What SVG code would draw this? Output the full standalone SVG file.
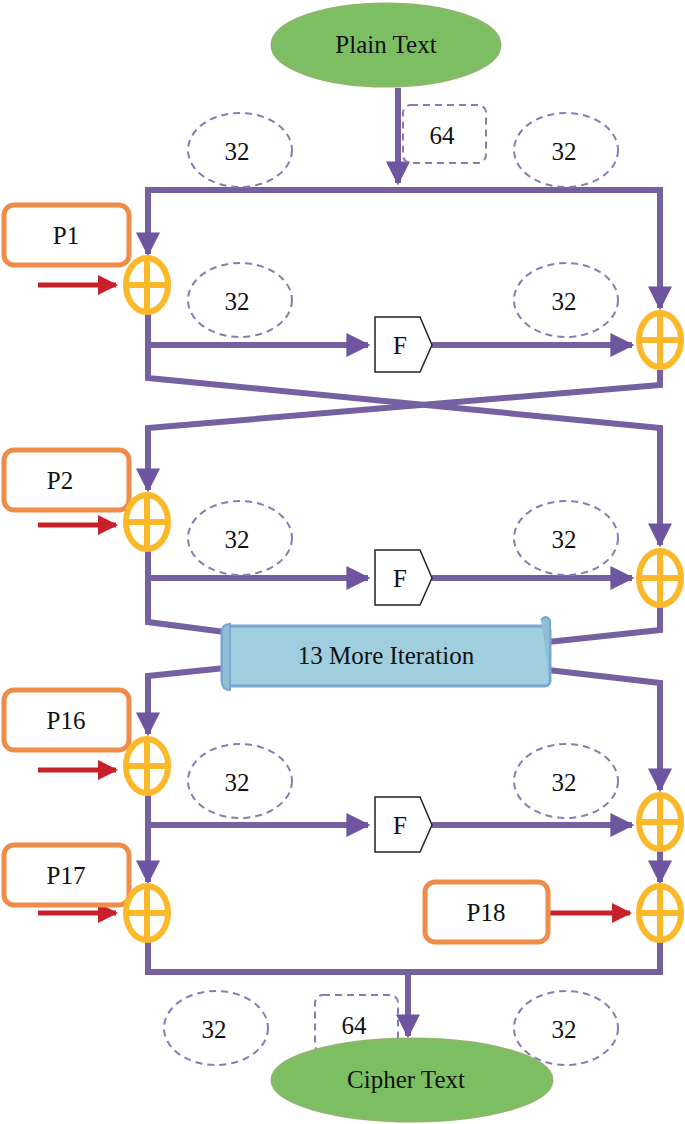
<svg xmlns="http://www.w3.org/2000/svg" width="685" height="1124" viewBox="0 0 685 1124">
<defs>
<marker id="pa" viewBox="0 0 10 10" refX="9" refY="5" markerWidth="4" markerHeight="4" orient="auto"><path d="M0,0 L10,5 L0,10 Z" fill="#6f55a0"/></marker>
<marker id="ra" viewBox="0 0 10 10" refX="9" refY="5" markerWidth="4" markerHeight="4" orient="auto"><path d="M0,0 L10,5 L0,10 Z" fill="#c8202a"/></marker>
<g id="xor"><ellipse cx="0" cy="0" rx="21" ry="27" fill="none" stroke="#fbb829" stroke-width="6"/><path d="M0,-27 V27 M-21,0 H21" stroke="#fbb829" stroke-width="6"/></g>
</defs>
<style>
.t{font-family:'Liberation Serif','DejaVu Serif',serif;font-size:25px;fill:#111;text-anchor:middle}
.w{fill:none;stroke:#7760a2;stroke-width:6}
.d{fill:none;stroke:#8a7bb5;stroke-width:2;stroke-dasharray:7,5}
.p{fill:#fff;stroke:#f08c4a;stroke-width:5}
.r{fill:none;stroke:#c8202a;stroke-width:5}
.f{fill:#fff;stroke:#222;stroke-width:1.5}
</style>
<g id="connectors">
<path class="w" d="M398,88 V183" marker-end="url(#pa)"/>
<path class="w" d="M148,252 V190 H660 V308" marker-end="url(#pa)"/>
<path class="w" d="M148,252 V254" marker-end="url(#pa)"/>
<path class="w" d="M148,313 V378 L660,428 V545" marker-end="url(#pa)"/>
<path class="w" d="M148,345 H368" marker-end="url(#pa)"/>
<path class="w" d="M432,345 H632" marker-end="url(#pa)"/>
<path class="w" d="M660,370 V385 L148,428 V490" marker-end="url(#pa)"/>
<path class="w" d="M148,550 V622 L225,632"/>
<path class="w" d="M148,578 H368" marker-end="url(#pa)"/>
<path class="w" d="M432,578 H632" marker-end="url(#pa)"/>
<path class="w" d="M660,606 V630 L548,642"/>
<path class="w" d="M225,668 L148,676 V734" marker-end="url(#pa)"/>
<path class="w" d="M548,670 L660,683 V790" marker-end="url(#pa)"/>
<path class="w" d="M148,794 V882" marker-end="url(#pa)"/>
<path class="w" d="M148,825 H368" marker-end="url(#pa)"/>
<path class="w" d="M432,825 H632" marker-end="url(#pa)"/>
<path class="w" d="M660,851 V882" marker-end="url(#pa)"/>
<path class="w" d="M148,942 V972 H660 V942"/>
<path class="w" d="M408,972 V1036" marker-end="url(#pa)"/>
<path class="r" d="M38,285 H116" marker-end="url(#ra)"/>
<path class="r" d="M38,525 H116" marker-end="url(#ra)"/>
<path class="r" d="M38,770 H116" marker-end="url(#ra)"/>
<path class="r" d="M38,913 H116" marker-end="url(#ra)"/>
<path class="r" d="M550,913 H630" marker-end="url(#ra)"/>
</g>
<g id="plain"><ellipse cx="386" cy="45" rx="114" ry="41" fill="#7cbf62" stroke="#8ab86a" stroke-width="3"/><text class="t" x="386" y="53">Plain Text</text></g>
<g id="labels">
<rect class="d" x="403" y="105" width="83" height="58" rx="8"/><text class="t" x="442" y="144">64</text>
<ellipse class="d" cx="240" cy="150" rx="52" ry="37"/><text class="t" x="237" y="160">32</text>
<ellipse class="d" cx="566" cy="150" rx="52" ry="37"/><text class="t" x="564" y="160">32</text>
<ellipse class="d" cx="240" cy="300" rx="52" ry="37"/><text class="t" x="237" y="310">32</text>
<ellipse class="d" cx="566" cy="300" rx="52" ry="37"/><text class="t" x="564" y="310">32</text>
<ellipse class="d" cx="240" cy="538" rx="52" ry="37"/><text class="t" x="237" y="548">32</text>
<ellipse class="d" cx="566" cy="538" rx="52" ry="37"/><text class="t" x="564" y="548">32</text>
<ellipse class="d" cx="240" cy="781" rx="52" ry="37"/><text class="t" x="237" y="791">32</text>
<ellipse class="d" cx="566" cy="781" rx="52" ry="37"/><text class="t" x="564" y="791">32</text>
<ellipse class="d" cx="216" cy="1028" rx="52" ry="37"/><text class="t" x="214" y="1038">32</text>
<ellipse class="d" cx="566" cy="1028" rx="52" ry="37"/><text class="t" x="564" y="1038">32</text>
<rect class="d" x="315" y="995" width="83" height="58" rx="8"/><text class="t" x="354" y="1034">64</text>
</g>
<g id="p1"><rect class="p" x="4" y="205" width="125" height="60" rx="10"/><text class="t" x="66" y="244">P1</text></g>
<g id="p2"><rect class="p" x="4" y="450" width="125" height="60" rx="10"/><text class="t" x="60" y="489">P2</text></g>
<g id="p16"><rect class="p" x="4" y="690" width="125" height="60" rx="10"/><text class="t" x="66" y="729">P16</text></g>
<g id="p17"><rect class="p" x="4" y="845" width="125" height="60" rx="10"/><text class="t" x="66" y="884">P17</text></g>
<g id="p18"><rect class="p" x="425" y="882" width="123" height="60" rx="10"/><text class="t" x="486" y="921">P18</text></g>
<g id="xors">
<use href="#xor" x="147" y="285"/><use href="#xor" x="660" y="340"/>
<use href="#xor" x="147" y="522"/><use href="#xor" x="660" y="578"/>
<use href="#xor" x="147" y="766"/><use href="#xor" x="660" y="822"/>
<use href="#xor" x="147" y="913"/><use href="#xor" x="660" y="913"/>
</g>
<g id="f1"><path class="f" d="M375,317 H420 L432,345 L420,372 H375 Z"/><text class="t" x="400" y="354">F</text></g>
<g id="f2"><path class="f" d="M375,550 H420 L432,578 L420,605 H375 Z"/><text class="t" x="400" y="587">F</text></g>
<g id="f3"><path class="f" d="M375,797 H420 L432,825 L420,852 H375 Z"/><text class="t" x="400" y="834">F</text></g>
<g id="scroll">
<rect x="222" y="626" width="328" height="60" rx="5" fill="#9fcfdf" stroke="#7aa7d0" stroke-width="3"/>
<path d="M222,632 Q222,624 230,624 V690 Q222,690 222,682 Z" fill="#8fbfd4" stroke="#7aa7d0" stroke-width="2"/>
<path d="M541,620 Q546,614 550,620 V680" fill="#8fbfd4" stroke="#7aa7d0" stroke-width="2"/>
<text class="t" x="386" y="664">13 More Iteration</text>
</g>
<g id="cipher"><ellipse cx="412" cy="1080" rx="140" ry="41" fill="#7cbf62" stroke="#8ab86a" stroke-width="3"/><text class="t" x="406" y="1088">Cipher Text</text></g>
</svg>
